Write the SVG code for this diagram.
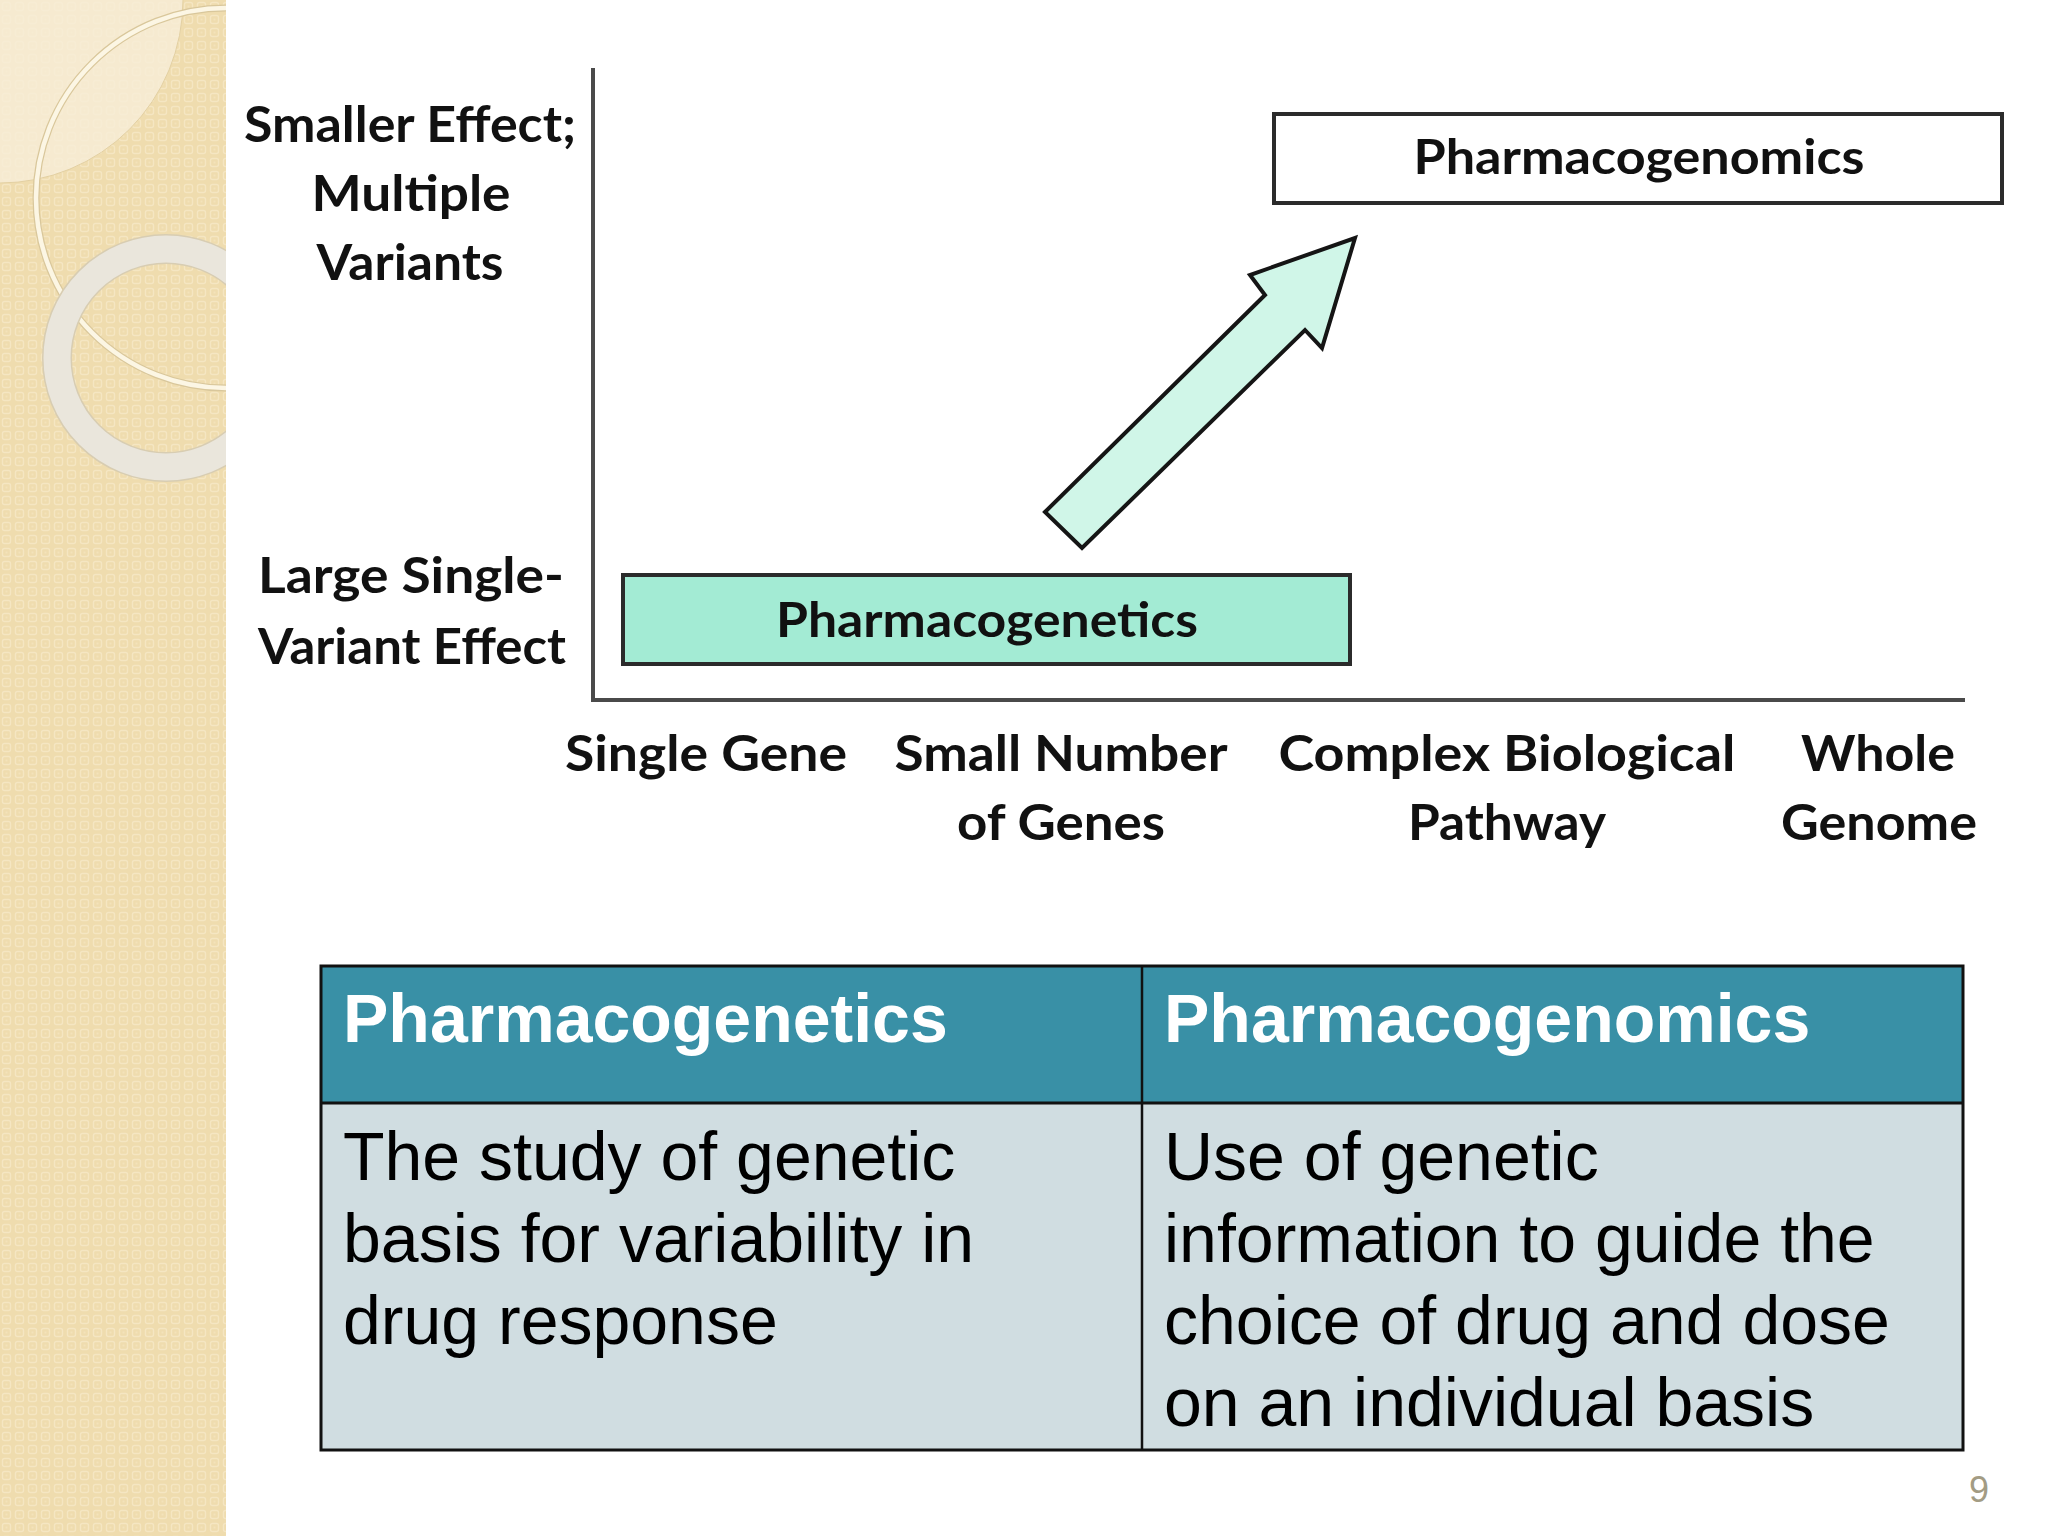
<svg xmlns="http://www.w3.org/2000/svg" width="2048" height="1536" viewBox="0 0 2048 1536">
<defs>
<pattern id="dots" x="0" y="0" width="13" height="13" patternUnits="userSpaceOnUse">
<rect width="13" height="13" fill="#EFDCAE"/>
<rect x="2.5" y="2.5" width="8" height="8" rx="2" fill="none" stroke="#F5E6C2" stroke-width="1.4"/>
<rect x="5.5" y="5.5" width="2" height="2" fill="#F3E3BA"/>
</pattern>
<clipPath id="bandClip"><rect x="0" y="0" width="226" height="1536"/></clipPath>
<style>
.lbl{font-family:Lato,"Open Sans","Liberation Sans",sans-serif;font-weight:700;font-size:50px;fill:#111;text-anchor:middle}
.box{font-family:Lato,"Open Sans","Liberation Sans",sans-serif;font-weight:700;font-size:48px;fill:#111;text-anchor:middle}
.hd{font-family:"Liberation Sans",Arial,sans-serif;font-weight:700;font-size:68px;fill:#FFFFFF}
.bd{font-family:"Liberation Sans",Arial,sans-serif;font-size:68px;fill:#000}
.axis{stroke:#4a4a4a;stroke-width:4;fill:none}
.frame{stroke:#2b2b2b;stroke-width:4}
</style>
</defs>
<rect width="2048" height="1536" fill="#FFFFFF"/>
<g id="band" clip-path="url(#bandClip)">
<rect x="0" y="0" width="226" height="1536" fill="url(#dots)"/>
<circle cx="0" cy="0" r="183" fill="#F7EED8" fill-opacity="0.8" stroke="#E3D0A2" stroke-width="1"/>
<circle cx="226" cy="198" r="190" fill="none" stroke="#D9C79B" stroke-width="7"/>
<circle cx="226" cy="198" r="190" fill="none" stroke="#FCF6E4" stroke-width="4.5"/>
<circle cx="166" cy="358" r="109" fill="none" stroke="#D8CDB2" stroke-width="30"/>
<circle cx="166" cy="358" r="109" fill="none" stroke="#EAE6DC" stroke-width="27"/>
</g>
<g id="y-labels">
<text class="lbl" x="410" y="142" textLength="332" lengthAdjust="spacingAndGlyphs">Smaller Effect;</text>
<text class="lbl" x="411" y="211" textLength="199" lengthAdjust="spacingAndGlyphs">Multiple</text>
<text class="lbl" x="410" y="280" textLength="187" lengthAdjust="spacingAndGlyphs">Variants</text>
<text class="lbl" x="411" y="593" textLength="306" lengthAdjust="spacingAndGlyphs">Large Single-</text>
<text class="lbl" x="412" y="664" textLength="308" lengthAdjust="spacingAndGlyphs">Variant Effect</text>
</g>
<g id="axes">
<polyline class="axis" points="593,68 593,700 1965,700"/>
</g>
<g id="node-pharmacogenetics">
<rect x="623" y="575" width="727" height="89" fill="#A3EBD4" class="frame"/>
<text class="box" x="987" y="637" textLength="422" lengthAdjust="spacingAndGlyphs">Pharmacogenetics</text>
</g>
<g id="node-pharmacogenomics">
<rect x="1274" y="114" width="728" height="89" fill="#FFFFFF" class="frame"/>
<text class="box" x="1639" y="174" textLength="451" lengthAdjust="spacingAndGlyphs">Pharmacogenomics</text>
</g>
<g id="connectors">
<polygon points="1045,512 1265,295 1250,275 1355,238 1322,348 1305,330 1082,548" fill="#D0F6E8" stroke="#151515" stroke-width="4" stroke-linejoin="miter"/>
</g>
<g id="x-labels">
<text class="lbl" x="706" y="771" textLength="282" lengthAdjust="spacingAndGlyphs">Single Gene</text>
<text class="lbl" x="1061" y="771" textLength="333" lengthAdjust="spacingAndGlyphs">Small Number</text>
<text class="lbl" x="1061" y="840" textLength="208" lengthAdjust="spacingAndGlyphs">of Genes</text>
<text class="lbl" x="1507" y="771" textLength="457" lengthAdjust="spacingAndGlyphs">Complex Biological</text>
<text class="lbl" x="1507" y="840" textLength="198" lengthAdjust="spacingAndGlyphs">Pathway</text>
<text class="lbl" x="1878" y="771" textLength="154" lengthAdjust="spacingAndGlyphs">Whole</text>
<text class="lbl" x="1879" y="840" textLength="196" lengthAdjust="spacingAndGlyphs">Genome</text>
</g>
<g id="table">
<rect x="321" y="966" width="1642" height="137" fill="#3990A6"/>
<rect x="321" y="1103" width="1642" height="347" fill="#D0DDE1"/>
<line x1="1142" y1="966" x2="1142" y2="1450" stroke="#111" stroke-width="2.5"/>
<line x1="321" y1="1103" x2="1963" y2="1103" stroke="#111" stroke-width="3"/>
<rect x="321" y="966" width="1642" height="484" fill="none" stroke="#111" stroke-width="3"/>
<text class="hd" x="343" y="1042">Pharmacogenetics</text>
<text class="hd" x="1164" y="1042">Pharmacogenomics</text>
<text class="bd" x="343" y="1180">The study of genetic</text>
<text class="bd" x="343" y="1262">basis for variability in</text>
<text class="bd" x="343" y="1344">drug response</text>
<text class="bd" x="1164" y="1180">Use of genetic</text>
<text class="bd" x="1164" y="1262">information to guide the</text>
<text class="bd" x="1164" y="1344">choice of drug and dose</text>
<text class="bd" x="1164" y="1426">on an individual basis</text>
</g>
<text x="1969" y="1502" font-family="'Liberation Sans',Arial,sans-serif" font-size="36" fill="#A39C84">9</text>
</svg>
